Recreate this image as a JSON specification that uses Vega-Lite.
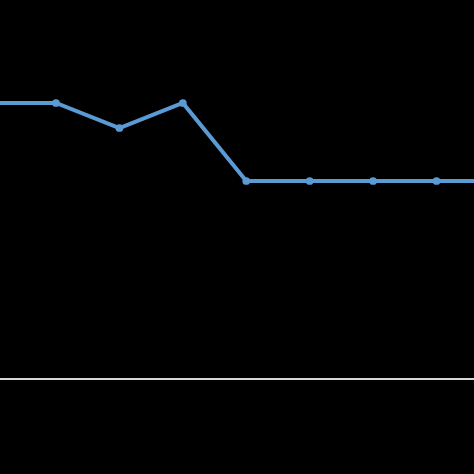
{
  "$schema": "https://vega.github.io/schema/vega-lite/v6.json",
  "width": 474,
  "height": 474,
  "autosize": {"type": "fit", "contains": "padding"},
  "padding": 0,
  "background": "#000000",
  "config": {"view": {"stroke": null}},
  "data": {
    "values": [
      {"i": 0, "v": 2.76},
      {"i": 1, "v": 2.76},
      {"i": 2, "v": 2.51},
      {"i": 3, "v": 2.76},
      {"i": 4, "v": 1.98},
      {"i": 5, "v": 1.98},
      {"i": 6, "v": 1.98},
      {"i": 7, "v": 1.98},
      {"i": 8, "v": 1.98}
    ]
  },
  "layer": [
    {
      "mark": {"type": "rule", "color": "#d9d9d9", "strokeWidth": 1.5, "clip": true},
      "encoding": {"y": {"datum": 0, "type": "quantitative", "scale": {"domain": [-0.95, 3.79], "nice": false, "zero": false}, "axis": null}}
    },
    {
      "mark": {"type": "line", "color": "#5b9bd5", "strokeWidth": 4, "clip": true, "point": {"filled": true, "size": 60, "color": "#5b9bd5", "opacity": 1}},
      "encoding": {
        "x": {"field": "i", "type": "quantitative", "scale": {"domain": [0.117, 7.591], "nice": false, "zero": false}, "axis": null},
        "y": {"field": "v", "type": "quantitative", "scale": {"domain": [-0.95, 3.79], "nice": false, "zero": false}, "axis": null}
      }
    }
  ]
}
